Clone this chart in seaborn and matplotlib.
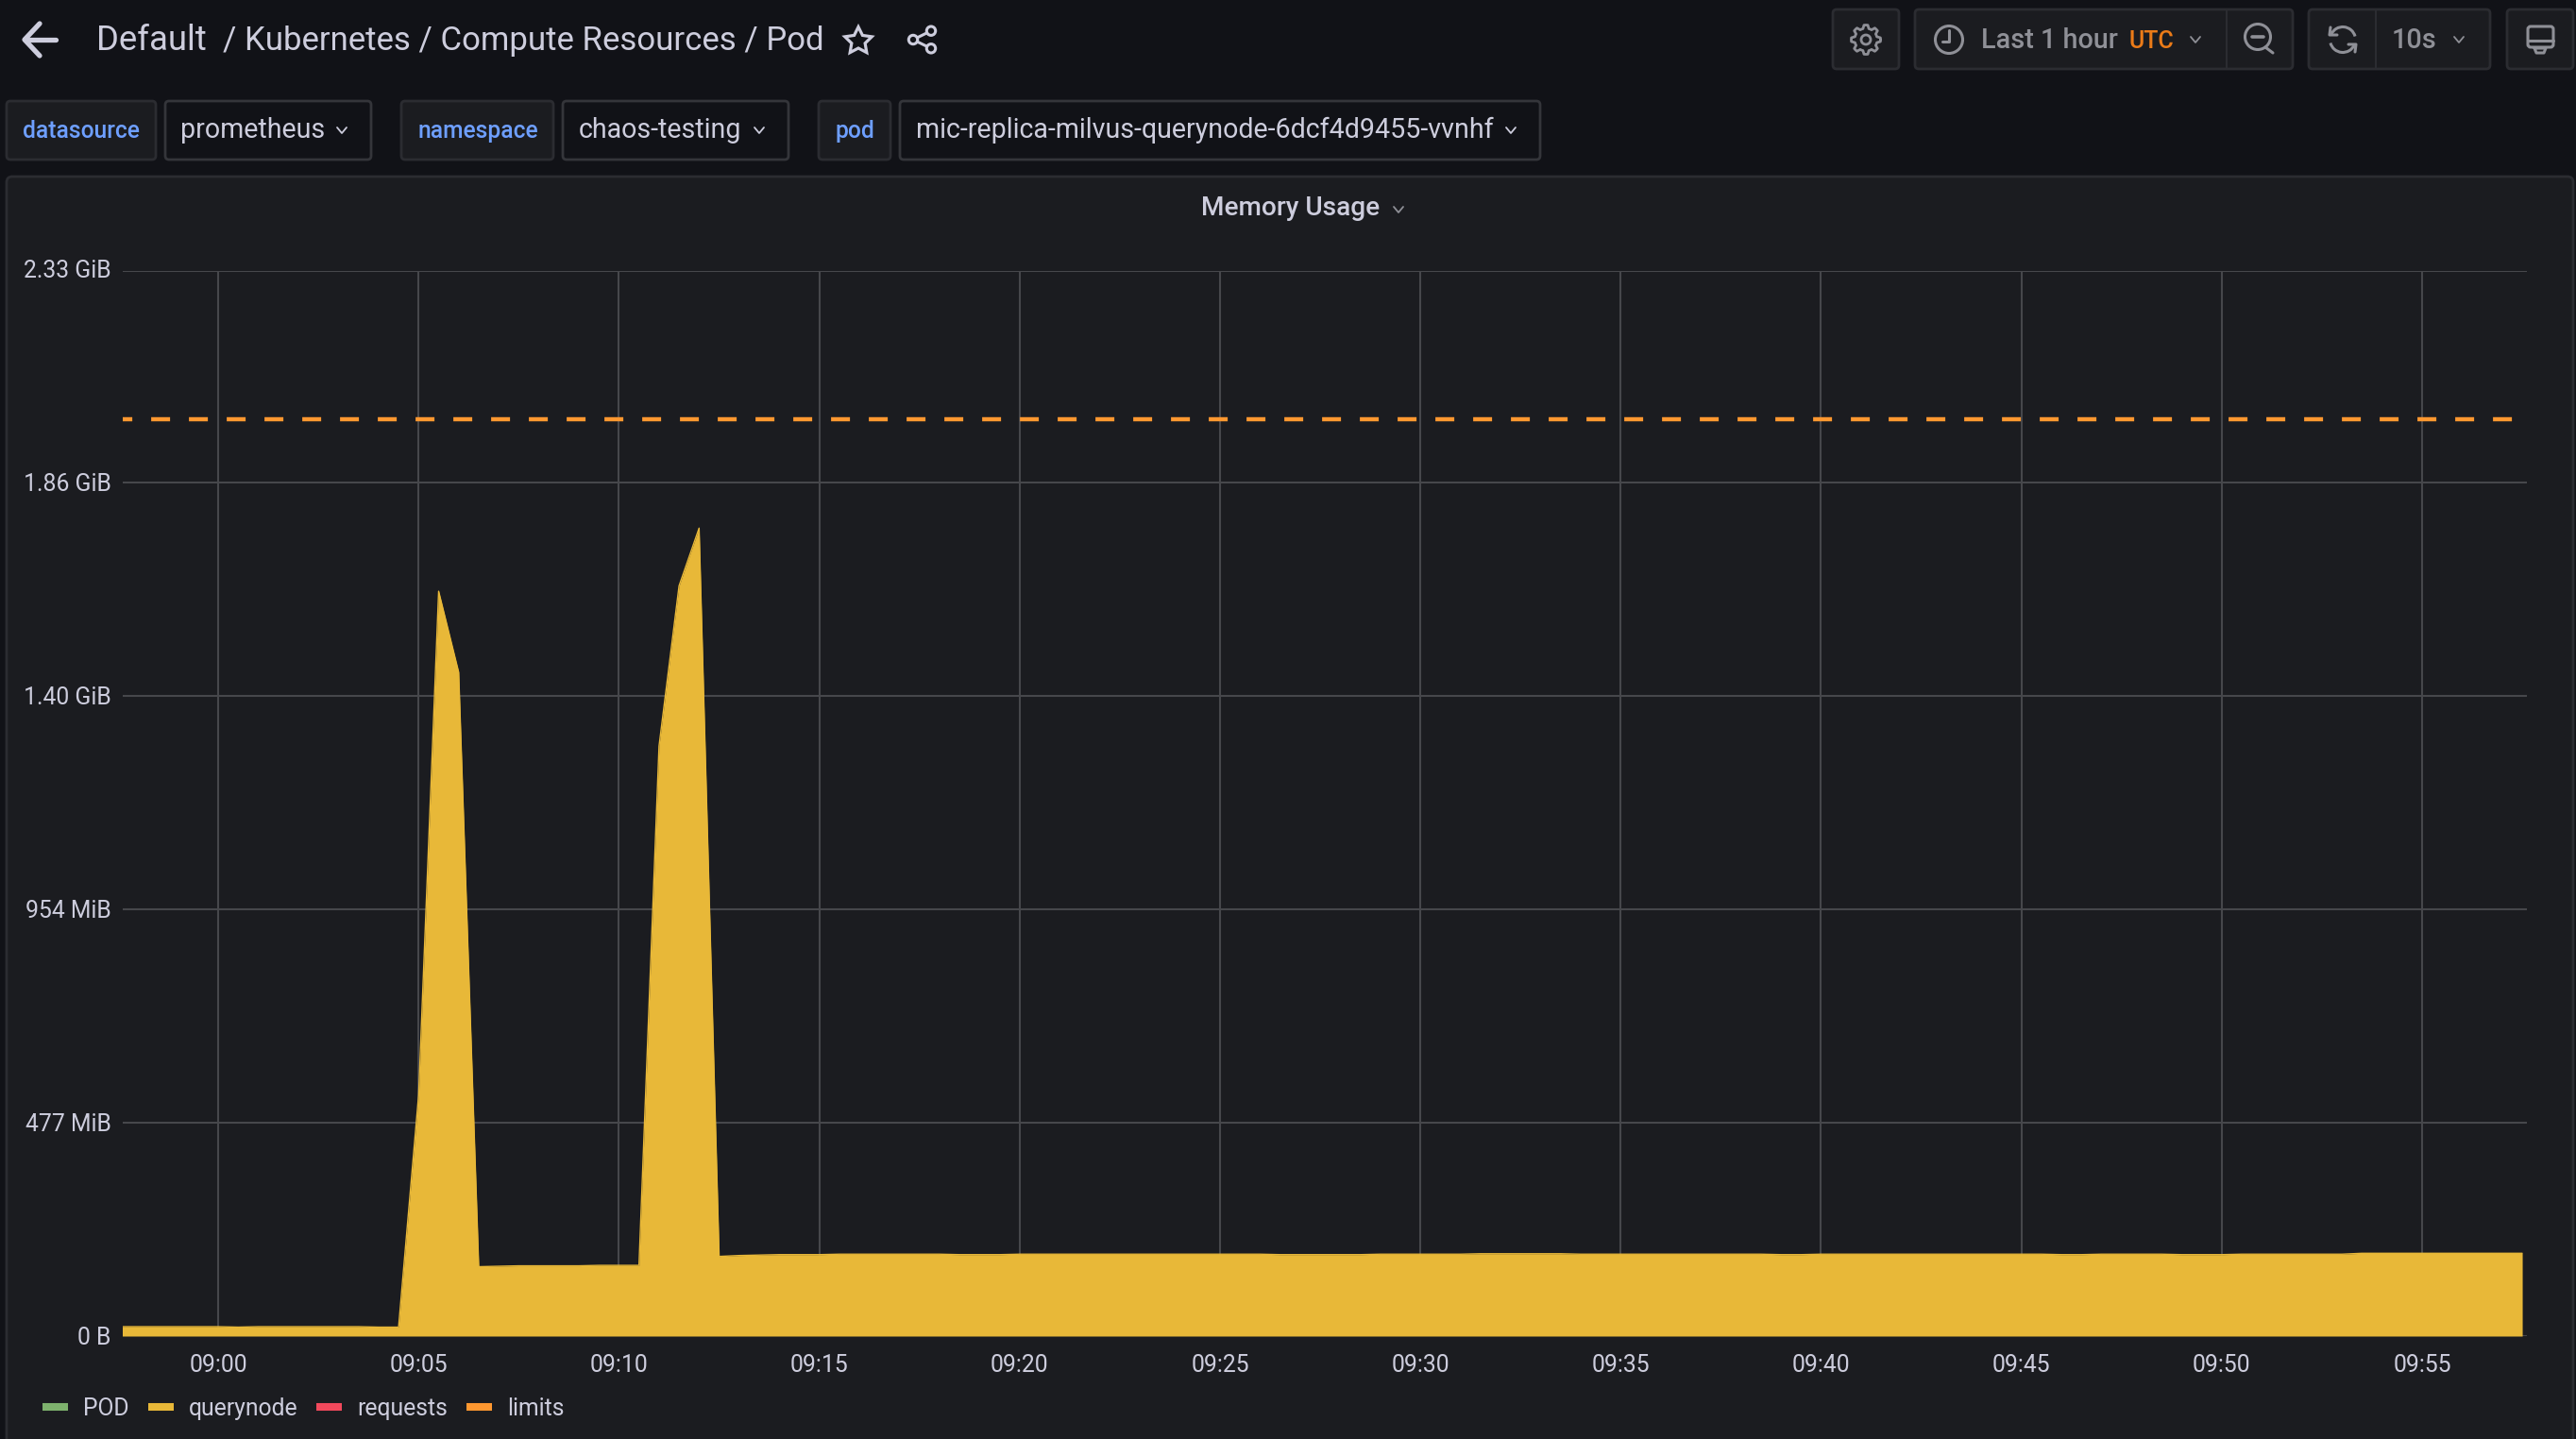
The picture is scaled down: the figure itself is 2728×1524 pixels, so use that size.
import numpy as np
import pandas as pd
import matplotlib
matplotlib.use("Agg")
import matplotlib.pyplot as plt
import matplotlib.dates as mdates
from matplotlib.lines import Line2D
from matplotlib.patches import FancyBboxPatch, Circle, Arc, Polygon
from matplotlib.transforms import ScaledTranslation
import seaborn as sns

W, H = 2728, 1524

# querynode memory in MiB, one sample per 30 s from 08:57:30
early = [21, 21, 21, 21, 21, 21, 20, 21, 21, 21, 21, 21, 21, 20, 20]
spike1 = [538, 1664, 1483]
between = [155, 156, 157, 157, 157, 157, 158, 158, 158]
spike2 = [1318, 1676, 1805]
tail = [178, 180, 181, 182, 182, 182, 183, 183, 183, 183,
        183, 183, 182, 182, 182, 183, 183, 183, 183, 183,
        183, 183, 183, 183, 183, 183, 183, 183, 182, 182,
        182, 182, 182, 183, 183, 183, 183, 183, 184, 184,
        184, 184, 184, 183, 183, 183, 183, 183, 183, 183,
        183, 183, 183, 182, 182, 183, 183, 183, 183, 183,
        183, 183, 183, 183, 183, 183, 183, 182, 182, 183,
        183, 183, 183, 182, 182, 182, 183, 183, 183, 183,
        183, 183, 185, 185, 185, 185, 185, 185, 185, 185, 185]
limit_mib = 2048

ytick_values = [0, 476.84, 953.67, 1430.51, 1907.35, 2380]
ytick_labels = ["0 B", "477 MiB", "954 MiB", "1.40 GiB", "1.86 GiB", "2.33 GiB"]
series_names = ["POD", "querynode", "requests", "limits"]
series_colors = ["#7EB26D", "#E8B838", "#F2495C", "#FF9830"]

BG = "#111217"
PANEL = "#1B1C20"
BORDER = "#2B2C31"
GRID = "#46474B"
TEXT = "#CDCDDD"
DIM = "#8F9097"
BLUE = "#6E9FFF"

sns.set_theme(style="darkgrid", rc={
    "figure.facecolor": BG, "axes.facecolor": "none", "grid.color": GRID,
    "grid.linewidth": 1.5, "axes.edgecolor": GRID,
})
plt.rcParams["font.family"] = ["Roboto", "DejaVu Sans"]

usage = early + spike1 + between + spike2 + tail
times = pd.date_range("2022-01-01 08:57:30", periods=len(usage), freq="30s")
df = pd.DataFrame({"time": times, "querynode": usage, "limits": limit_mib})

fig = plt.figure(figsize=(W / 100, H / 100), dpi=100)

# dashboard chrome, drawn in pixel coordinates
ui = fig.add_axes([0, 0, 1, 1], zorder=0)
ui.set_xlim(0, W)
ui.set_ylim(H, 0)
ui.axis("off")


def box(x0, y0, x1, y1, face, edge=BORDER, r=4):
    ui.add_patch(FancyBboxPatch((x0, y0), x1 - x0, y1 - y0, boxstyle=f"round,pad=0,rounding_size={r}",
                                fc=face, ec=edge, lw=2))


def label(x, y, s, size=20, color=TEXT, weight="normal"):
    ui.text(x, y, s, fontsize=size, color=color, fontweight=weight, ha="left", va="baseline")


def stroke(xs, ys, color=DIM, lw=2.2):
    ui.plot(xs, ys, color=color, lw=lw, solid_capstyle="round", solid_joinstyle="round")


def chevron(x, y, color=DIM):
    stroke([x - 5, x, x + 5], [y - 3, y + 3, y - 3], color, 1.3)


def ring(x, y, r, color=DIM, lw=2.2):
    ui.add_patch(Circle((x, y), r, fc="none", ec=color, lw=lw))


box(7, 187, 2725, 1600, PANEL, r=6)

# title row
stroke([59, 27], [42, 42], TEXT, 3.8)
stroke([42, 26, 42], [25, 42, 59], TEXT, 3.8)
label(102, 53, "Default", 26.3)
label(236, 53, "/ Kubernetes / Compute Resources / Pod", 25.05)

ang = np.pi / 2 - np.arange(10) * np.pi / 5
rad = np.array([15, 7.5] * 5)
ui.add_patch(Polygon(np.c_[909 + rad * np.cos(ang), 43.5 - rad * np.sin(ang)], fc="none", ec=TEXT, lw=2.3))
stroke([986, 967, 986], [32.7, 42, 51.3], TEXT, 2.2)
for cx, cy in [(986, 32.7), (967, 42), (986, 51.3)]:
    ui.add_patch(Circle((cx, cy), 4.7, fc=BG, ec=TEXT, lw=2.2, zorder=3))

# toolbar
box(1941, 10, 2011, 73, PANEL)
box(2028, 10, 2428, 73, PANEL)
box(2445, 10, 2637, 73, PANEL)
box(2655, 10, 2725, 73, PANEL)
stroke([2358, 2358], [11, 72], BORDER, 1.5)
stroke([2516, 2516], [11, 72], BORDER, 1.5)

t = np.linspace(0, 2 * np.pi, 49)
rr = np.where(np.cos(8 * t) > 0, 15.5, 12)
ui.plot(1976 + rr * np.cos(t), 42 + rr * np.sin(t), color=DIM, lw=2)
ring(1976, 42, 5, lw=2)

ring(2064, 42, 14.5)
stroke([2064, 2064, 2057], [32, 44, 44])
label(2098, 51, "Last 1 hour", 20.7, DIM, 500)
label(2255, 51, "UTC", 18, "#EB7B18", 500)
chevron(2325, 42)

ring(2391, 39, 13.5)
stroke([2385, 2397], [39, 39], lw=2.6)
stroke([2399, 2407], [50, 56])

ui.add_patch(Arc((2481, 42), 27, 27, theta1=205, theta2=345, color=DIM, lw=2.2))
ui.add_patch(Arc((2481, 42), 27, 27, theta1=25, theta2=165, color=DIM, lw=2.2))
stroke([2468, 2467, 2475], [29, 37, 37])
stroke([2494, 2495, 2487], [55, 47, 47])
label(2533, 51, "10s", 20.7, DIM, 500)
chevron(2604, 42)

ui.add_patch(FancyBboxPatch((2677, 28), 27, 22, boxstyle="round,pad=0,rounding_size=3", fc="none", ec=DIM, lw=2.2))
stroke([2677, 2704], [43, 43])
stroke([2684, 2696, 2694, 2686, 2684], [51, 51, 56, 56, 51])

# variable row
box(7, 107, 165, 169, PANEL)
box(175, 107, 393, 169, BG, "#34353A")
box(425, 107, 586, 169, PANEL)
box(596, 107, 835, 169, BG, "#34353A")
box(867, 107, 943, 169, PANEL)
box(953, 107, 1631, 169, BG, "#34353A")
label(24, 146, "datasource", 17.7, BLUE, 500)
label(191, 146, "prometheus", 20.6)
chevron(362, 138, TEXT)
label(442, 146, "namespace", 17.7, BLUE, 500)
label(613, 146, "chaos-testing", 20.6)
chevron(804, 138, TEXT)
label(884, 146, "pod", 17.7, BLUE, 500)
label(970, 146, "mic-replica-milvus-querynode-6dcf4d9455-vvnhf", 20.6)
chevron(1600, 138, TEXT)

label(1272, 228, "Memory Usage", 20.2, TEXT, 500)
chevron(1481, 222)

# the graph itself
x0, x1, ytop, ybot = 130, 2676, 286.7, 1415
ax = fig.add_axes([x0 / W, 1 - ybot / H, (x1 - x0) / W, (ybot - ytop) / H], zorder=1)
ax.patch.set_alpha(0)

ax.fill_between(df["time"], df["querynode"], 0, color=series_colors[1], lw=0, zorder=2)
sns.lineplot(data=df, x="time", y="querynode", estimator=None, color=series_colors[1], lw=1, ax=ax, zorder=3)
sns.lineplot(data=df, x="time", y="limits", estimator=None, color=series_colors[3], lw=3.2,
             linestyle=(1.1, (4.5, 4.5)), dash_capstyle="butt", ax=ax, zorder=3)

ax.set_xlim(pd.Timestamp("2022-01-01 08:57:37"), pd.Timestamp("2022-01-01 09:57:37"))
ax.set_ylim(0, ytick_values[-1])
ax.set_yticks(ytick_values, ytick_labels)
ax.xaxis.set_major_locator(mdates.MinuteLocator(byminute=range(0, 60, 5)))
ax.xaxis.set_major_formatter(mdates.DateFormatter("%H:%M"))
ax.set_xlabel("")
ax.set_ylabel("")
ax.tick_params(axis="both", length=0, labelsize=17.8, labelcolor=TEXT)
ax.tick_params(axis="y", pad=9)
ax.tick_params(axis="x", pad=13.5)
ax.grid(True, color=GRID, lw=1.5, zorder=0)
ax.set_axisbelow(True)
sns.despine(ax=ax, left=True, bottom=True, right=True, top=True)

# top label sits a little above its line
top_label = ax.get_yticklabels()[-1]
top_label.set_transform(top_label.get_transform() + ScaledTranslation(0, 2 / 100, fig.dpi_scale_trans))

handles = [Line2D([], [], color=c, lw=5.8, solid_capstyle="butt") for c in series_colors]
ax.legend(handles, series_names, loc="lower left", bbox_to_anchor=(45 / W, 1 - 1504 / H), bbox_transform=fig.transFigure,
          ncol=4, frameon=False, fontsize=17.8, labelcolor=TEXT, handlelength=1.09, handletextpad=0.65,
          columnspacing=0.81, borderpad=0, borderaxespad=0)

fig.savefig("out.png", dpi=100, facecolor=BG)
